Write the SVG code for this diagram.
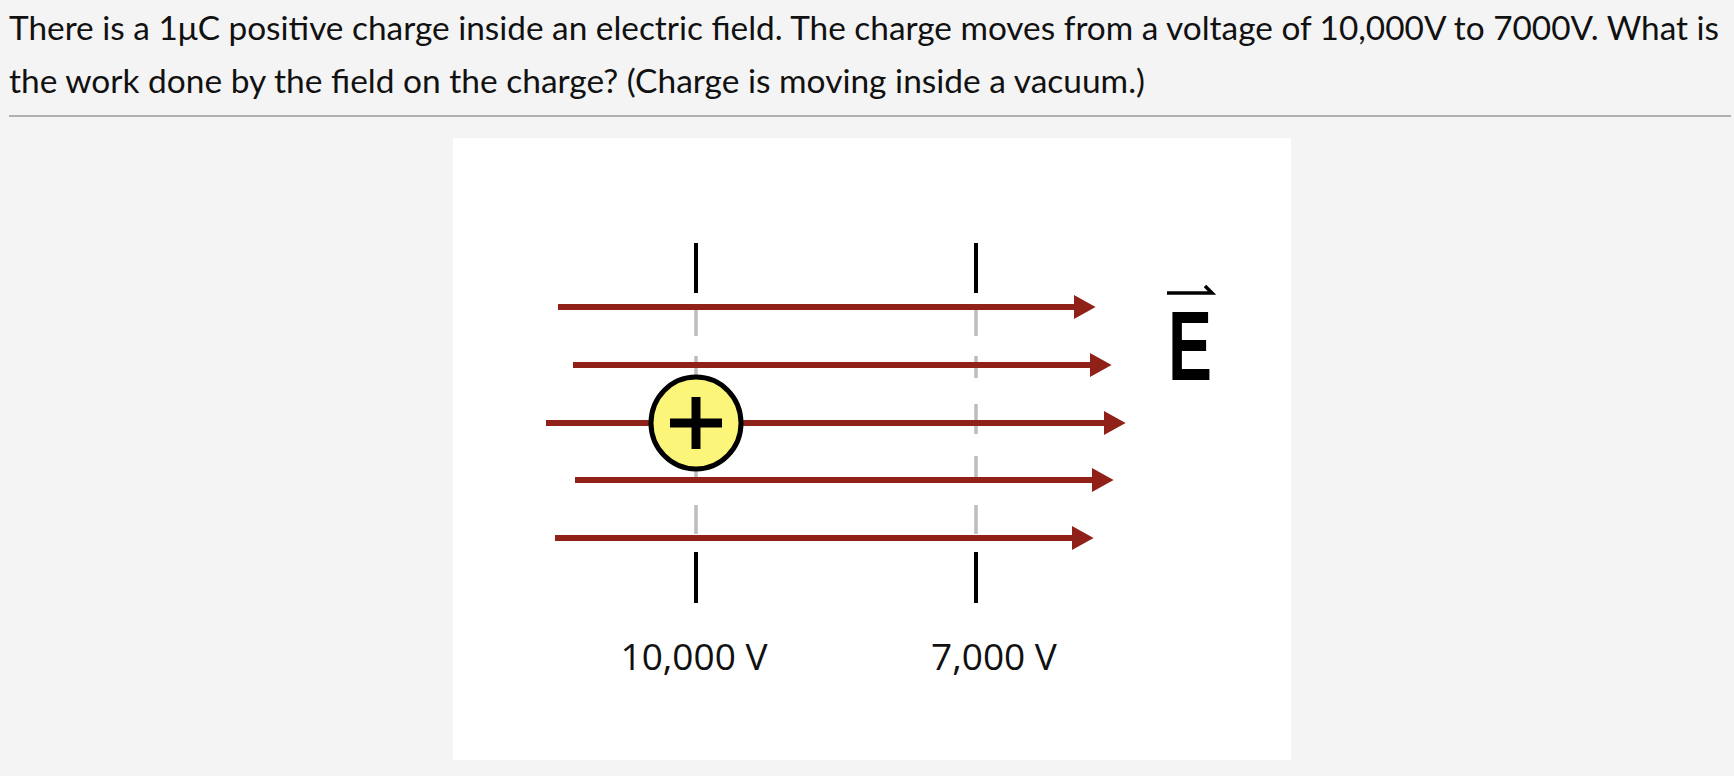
<svg xmlns="http://www.w3.org/2000/svg" width="1734" height="776" viewBox="0 0 1734 776">
<defs>
<style>
.q{font-family:Lato,"Liberation Sans",sans-serif;font-size:32px;fill:#111}
.lbl{font-family:"Open Sans","Liberation Sans",sans-serif;font-size:37px;fill:#111;text-anchor:middle}
.fl{stroke:#8f2118;stroke-width:6;fill:none}
.tk{stroke:#000;stroke-width:4}
.gd{stroke:#bdbdbd;stroke-width:3.5}
</style>
<marker id="ah" markerWidth="4" markerHeight="4" refX="0" refY="2" orient="auto" markerUnits="strokeWidth"><path d="M0,0 L3.6,2 L0,4 Z" fill="#8f2118"/></marker>
</defs>
<rect width="1734" height="776" fill="#f4f4f4"/>
<text class="q" x="9" y="40" textLength="1710" lengthAdjust="spacingAndGlyphs">There is a 1μC positive charge inside an electric field. The charge moves from a voltage of 10,000V to 7000V. What is</text>
<text class="q" x="9" y="93" textLength="1136" lengthAdjust="spacingAndGlyphs">the work done by the field on the charge? (Charge is moving inside a vacuum.)</text>
<line x1="9" y1="116" x2="1731" y2="116" stroke="#9a9a9a" stroke-width="1.5"/>
<rect x="453" y="138" width="838" height="622" fill="#fff"/>
<g id="equipotentials">
<path class="tk" d="M696,243V293M976,243V293M696,552V603M976,552V603"/>
<path class="gd" d="M696,310V336M696,356V378M696,404V434M696,456V480M696,505V534M976,310V336M976,356V378M976,404V434M976,456V480M976,505V534"/>
</g>
<g id="connectors">
<line class="fl" x1="558" y1="307" x2="1074" y2="307" marker-end="url(#ah)"/>
<line class="fl" x1="573" y1="365" x2="1090" y2="365" marker-end="url(#ah)"/>
<line class="fl" x1="546" y1="423" x2="1104" y2="423" marker-end="url(#ah)"/>
<line class="fl" x1="575" y1="480" x2="1092" y2="480" marker-end="url(#ah)"/>
<line class="fl" x1="555" y1="538" x2="1072" y2="538" marker-end="url(#ah)"/>
</g>
<g id="charge">
<ellipse cx="696" cy="423" rx="45" ry="46" fill="#fbf57a" stroke="#000" stroke-width="5"/>
<path d="M670,423H722M696,397V449" stroke="#000" stroke-width="9"/>
</g>
<g id="E">
<text x="1190" y="380" font-family="Liberation Sans,sans-serif" font-weight="bold" font-size="98" text-anchor="middle" textLength="44" lengthAdjust="spacingAndGlyphs">E</text>
<path d="M1167,293H1212L1205,286" stroke="#000" stroke-width="3.5" fill="none"/>
</g>
<text class="lbl" x="694" y="670">10,000 V</text>
<text class="lbl" x="994" y="670">7,000 V</text>
</svg>
